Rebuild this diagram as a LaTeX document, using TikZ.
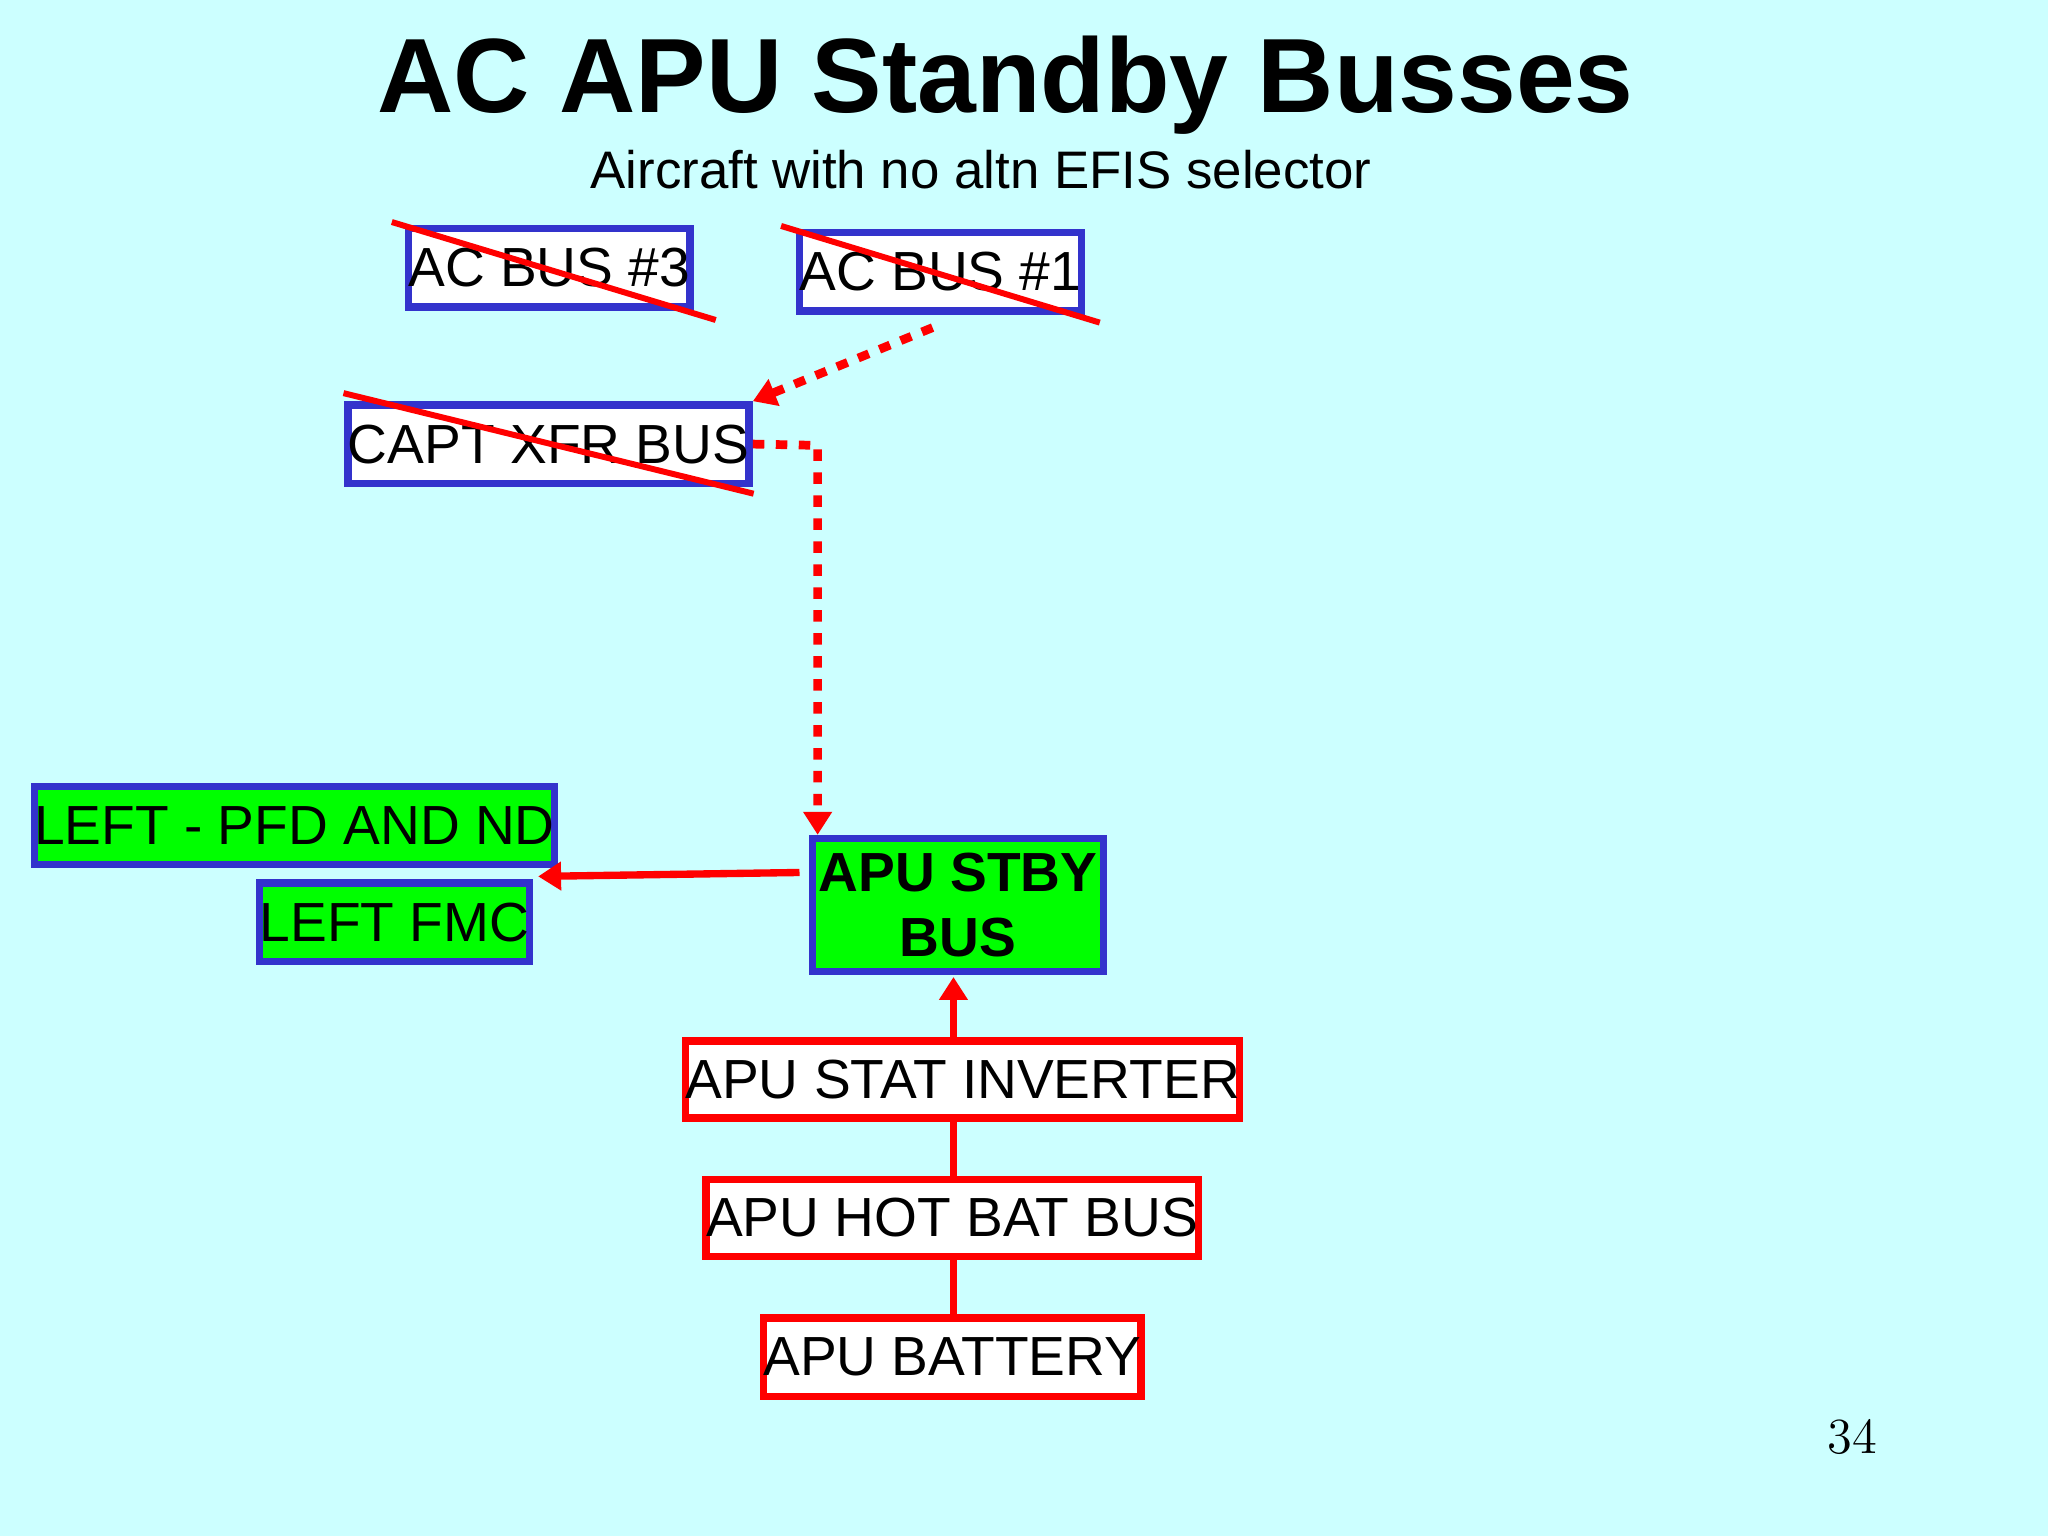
\documentclass[tikz,border=0pt]{standalone}
\usepackage{fontspec}
\setmainfont{Liberation Sans}
\usetikzlibrary{arrows.meta}
\definecolor{bgcyan}{HTML}{CCFFFF}
\definecolor{busblue}{HTML}{3333CC}
\definecolor{busgreen}{HTML}{00FF00}
\definecolor{busred}{HTML}{FF0000}

\begin{document}
\begin{tikzpicture}[line cap=butt,line join=miter,x=0.01cm,y=-0.01cm,
  bus/.style={draw=busblue,line width=1.6pt,fill=white,inner sep=0pt,font=\fontsize{12}{14}\selectfont},
  gbus/.style={bus,fill=busgreen},
  rbus/.style={bus,draw=busred},
  strike/.style={busred,line width=1.3pt},
  feed/.style={busred,line width=1.6pt},
  dfeed/.style={busred,line width=1.9pt,dash pattern=on 2.5pt off 2.5pt},
  >={Triangle[length=5pt,width=6pt]}]
\fill [bgcyan] (0,0) rectangle (1568,1176);
\useasboundingbox (0,0) rectangle (1568,1176);
\node at (770,65) {\fontsize{23}{26}\selectfont\bfseries AC APU Standby Busses};
\node at (751,130) {\fontsize{11.5}{14}\selectfont Aircraft with no altn EFIS selector};
% busses that are lost
\node [bus,minimum width=2.11cm,minimum height=0.6cm] (ac3) at (420.5,205) {AC BUS \#3};
\node [bus,minimum width=2.12cm,minimum height=0.6cm] (ac1) at (720,208) {AC BUS \#1};
\node [bus,minimum width=2.86cm,minimum height=0.6cm] (xfr) at (420,340) {CAPT XFR BUS};
\draw [strike] (300,170)--(548,245);
\draw [strike] (598,173)--(842,247);
\draw [strike] (263,301)--(577,378);
% standby bus and loads
\node [gbus,minimum width=2.23cm,minimum height=1.02cm,align=center] (stby) at (733.5,693) {\textbf{APU STBY}\\\textbf{BUS}};
\node [gbus,minimum width=3.63cm,minimum height=0.6cm] (pfd) at (225.5,632) {LEFT - PFD AND ND};
\node [gbus,minimum width=2.04cm,minimum height=0.6cm] (fmc) at (302,706) {LEFT FMC};
% apu sources
\node [rbus,minimum width=3.88cm,minimum height=0.59cm] (inv) at (737,826.5) {APU STAT INVERTER};
\node [rbus,minimum width=3.46cm,minimum height=0.59cm] (hot) at (729,932.5) {APU HOT BAT BUS};
\node [rbus,minimum width=2.74cm,minimum height=0.6cm] (bat) at (729,1039) {APU BATTERY};
\coordinate (bend) at (626,341);
\draw [dfeed,->] (ac1.south) ++(-6,10) -- (xfr.north east);
\draw [dfeed,->] (xfr.east) -- (bend) -- (bend |- stby.north);
\draw [feed,->] (stby.west) ++(-7,-25) -- (412,671);
\draw [feed,->] (inv.north -| 730,0) -- (730,748);
\draw [feed] (inv.south -| 730,0) -- (hot.north -| 730,0);
\draw [feed] (hot.south -| 730,0) -- (bat.north -| 730,0);
\node [font=\fontfamily{lmr}\selectfont\fontsize{11}{13}\selectfont] at (1418,1100) {34};
\end{tikzpicture}
\end{document}
